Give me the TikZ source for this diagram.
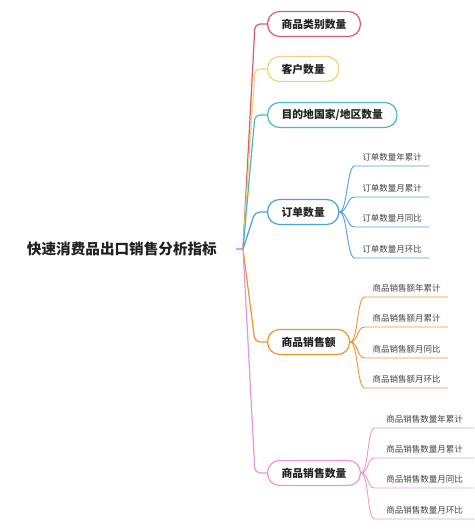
\documentclass[tikz,border=0pt]{standalone}
\usepackage{fontspec}
\setmainfont{Noto Sans CJK SC}
\usepackage{tikz}

\definecolor{redl}{HTML}{E0566B}
\definecolor{yell}{HTML}{F2D27A}
\definecolor{cyanl}{HTML}{48B8CC}
\definecolor{bluel}{HTML}{4A9FE0}
\definecolor{orangel}{HTML}{F0922E}
\definecolor{pinkl}{HTML}{EA96D6}
\definecolor{txt}{HTML}{222222}

\tikzset{
    rootnode/.style={font=\fontsize{14.6}{16}\selectfont\bfseries, text=txt, inner xsep=19pt, anchor=east},
    topic/.style={draw=#1, line width=1.2pt, rounded corners=12pt, minimum height=25pt, inner xsep=14pt,
        font=\fontsize{10.8}{12}\selectfont\bfseries, text=txt, anchor=west},
    leaf/.style={inner sep=0pt, minimum height=17pt, anchor=south, font=\fontsize{8.5}{10}\selectfont, text=txt!85},
    branch/.style={draw=#1, line width=1.2pt, rounded corners=5pt},
    twig/.style={draw=#1, line width=0.9pt}
}

\begin{document}
\begin{tikzpicture}[x=1pt, y=-1pt]
            \useasboundingbox (0,0) rectangle (474,532);

            \node[rootnode] at (236, 249) (root) {快速消费品出口销售分析指标};
            \coordinate (hub) at (243, 249);
            \draw[pinkl, line width=1.2pt] (root.east) -- (hub);

            \node[topic=redl] at (267, 24) (cat) {商品类别数量};
            \node[topic=yell] at (267, 69) (cust) {客户数量};
            \node[topic=cyanl] at (267, 115) (dest) {目的地国家/地区数量};
            \node[topic=bluel] at (267, 212) (order) {订单数量};
            \node[topic=orangel] at (267, 342) (sales) {商品销售额};
            \node[topic=pinkl] at (267, 473) (qty) {商品销售数量};

            \draw[branch=redl] (cat.west) -- ++(-12, 0) -- (hub);
            \draw[branch=yell] (cust.west) -- ++(-12, 0) -- (hub);
            \draw[branch=cyanl] (dest.west) -- ++(-12, 0) -- (hub);
            \draw[branch=bluel] (order.west) -- ++(-12, 0) -- (hub);
            \draw[branch=orangel] (sales.west) -- ++(-12, 0) -- (hub);
            \draw[branch=pinkl] (qty.west) -- ++(-12, 0) -- (hub);

            % 订单数量
            \node[leaf, minimum width=74pt] at (392, 166) (order1) {订单数量年累计};
            \node[leaf, minimum width=74pt] at (392, 197) (order2) {订单数量月累计};
            \node[leaf, minimum width=74pt] at (392, 227) (order3) {订单数量月同比};
            \node[leaf, minimum width=74pt] at (392, 258) (order4) {订单数量月环比};

            \draw[twig=bluel] (order.east) .. controls +(8, 0) and +(-8, 0) .. (order1.south west) -- (order1.south east);
            \draw[twig=bluel] (order.east) .. controls +(8, 0) and +(-8, 0) .. (order2.south west) -- (order2.south east);
            \draw[twig=bluel] (order.east) .. controls +(8, 0) and +(-8, 0) .. (order3.south west) -- (order3.south east);
            \draw[twig=bluel] (order.east) .. controls +(8, 0) and +(-8, 0) .. (order4.south west) -- (order4.south east);

            % 商品销售额
            \node[leaf, minimum width=83pt] at (406.5, 297) (sales1) {商品销售额年累计};
            \node[leaf, minimum width=83pt] at (406.5, 327) (sales2) {商品销售额月累计};
            \node[leaf, minimum width=83pt] at (406.5, 358) (sales3) {商品销售额月同比};
            \node[leaf, minimum width=83pt] at (406.5, 388) (sales4) {商品销售额月环比};

            \draw[twig=orangel] (sales.east) .. controls +(8, 0) and +(-8, 0) .. (sales1.south west) -- (sales1.south east);
            \draw[twig=orangel] (sales.east) .. controls +(8, 0) and +(-8, 0) .. (sales2.south west) -- (sales2.south east);
            \draw[twig=orangel] (sales.east) .. controls +(8, 0) and +(-8, 0) .. (sales3.south west) -- (sales3.south east);
            \draw[twig=orangel] (sales.east) .. controls +(8, 0) and +(-8, 0) .. (sales4.south west) -- (sales4.south east);

            % 商品销售数量
            \node[leaf, minimum width=99pt] at (424.5, 428) (qty1) {商品销售数量年累计};
            \node[leaf, minimum width=99pt] at (424.5, 458) (qty2) {商品销售数量月累计};
            \node[leaf, minimum width=99pt] at (424.5, 488) (qty3) {商品销售数量月同比};
            \node[leaf, minimum width=99pt] at (424.5, 519) (qty4) {商品销售数量月环比};

            \draw[twig=pinkl] (qty.east) .. controls +(8, 0) and +(-8, 0) .. (qty1.south west) -- (qty1.south east);
            \draw[twig=pinkl] (qty.east) .. controls +(8, 0) and +(-8, 0) .. (qty2.south west) -- (qty2.south east);
            \draw[twig=pinkl] (qty.east) .. controls +(8, 0) and +(-8, 0) .. (qty3.south west) -- (qty3.south east);
            \draw[twig=pinkl] (qty.east) .. controls +(8, 0) and +(-8, 0) .. (qty4.south west) -- (qty4.south east);
        \end{tikzpicture}
\end{document}
